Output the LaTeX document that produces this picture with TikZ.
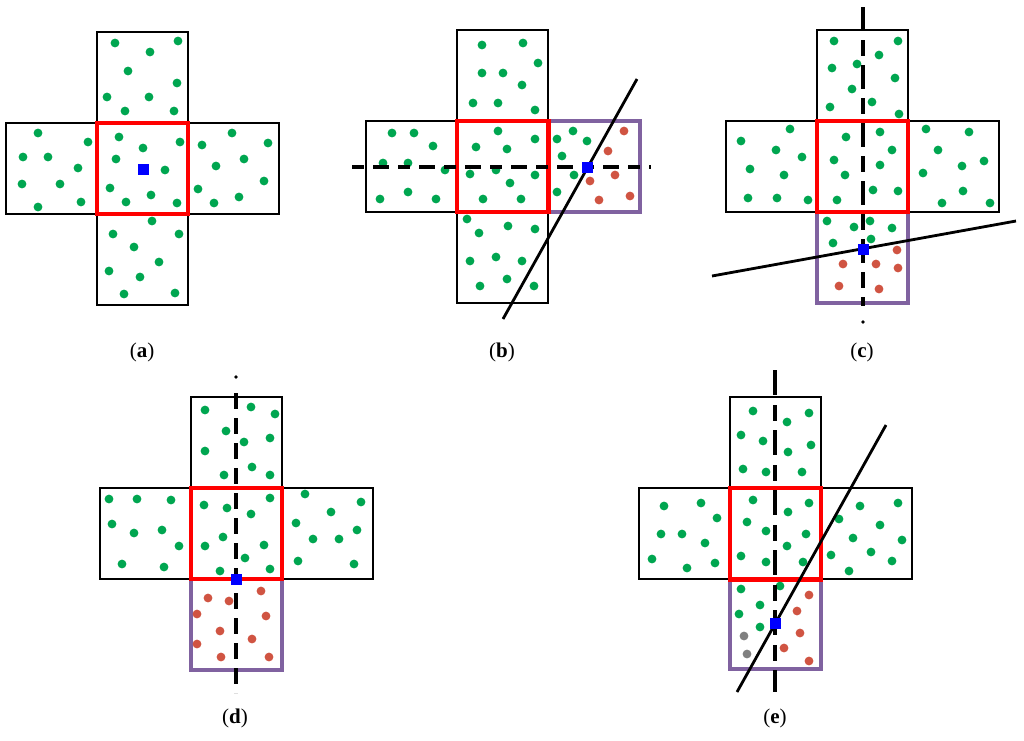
\documentclass[tikz,border=0pt]{standalone}
\usepackage{fontspec}
\setmainfont{Liberation Serif}
\definecolor{gdc}{RGB}{0,166,80}
\definecolor{rdc}{RGB}{208,84,66}
\definecolor{pur}{RGB}{128,98,160}
\definecolor{gyc}{RGB}{128,128,128}
\newcommand\crossat[2]{%
  \draw[boxl] (#1,#2-91) rectangle (#1+91,#2+182);
  \draw[boxl] (#1-91,#2) rectangle (#1+182,#2+91);
  \draw[redbox] (#1,#2) rectangle (#1+91,#2+91);}
\newcommand\gdots[1]{\foreach \p in {#1} \fill[gdc] \p circle (4.4pt);}
\newcommand\rdots[1]{\foreach \p in {#1} \fill[rdc] \p circle (4.4pt);}
\newcommand\bsq[1]{\fill[blue] ($#1+(-5.5,-5.5)$) rectangle ($#1+(5.5,5.5)$);}
\usetikzlibrary{calc}
\begin{document}
\begin{tikzpicture}[x=1pt,y=-1pt,
  boxl/.style={black,line width=2pt},
  redbox/.style={red,line width=4.5pt},
  purbox/.style={pur,line width=4pt},
  solidl/.style={black,line width=2.8pt},
  dashl/.style={black,line width=3.2pt,dash pattern=on 16pt off 9pt},
  lab/.style={font=\fontsize{21}{25}\selectfont}]
\useasboundingbox (0,0) rectangle (1024,740);
% (a)
\crossat{97}{123}
\gdots{(115,43),(178,41),(150,52),(128,71),(177,83),(107,97),(149,97),(125,111),(174,111),
(38,133),(88,142),(23,157),(48,157),(78,168),(22,184),(60,184),(38,207),(81,202),
(119,137),(143,148),(180,142),(116,159),(165,170),(110,188),(151,195),(126,202),(177,203),
(232,133),(268,143),(202,145),(244,159),(216,166),(264,181),(198,189),(239,197),(214,203),
(152,221),(113,234),(179,234),(134,247),(159,262),(109,271),(140,277),(124,294),(175,293)}
\bsq{(143,169)}
\node[lab] (la) at (142,352) {(\textbf{a})};
% (b)
\crossat{457}{121}
\draw[purbox] (549,121) rectangle (640,212);
\draw[redbox] (457,121) rectangle (549,212);
\gdots{(482,45),(523,43),(538,63),(482,73),(503,73),(522,85),(473,103),(498,103),(535,110),
(392,133),(414,133),(433,146),(383,163),(408,163),(445,170),(380,199),(408,192),(436,199),
(498,131),(535,139),(476,147),(507,149),(470,174),(496,170),(535,175),(510,183),(483,199),(521,199),
(557,139),(573,131),(587,141),(562,156),(574,175),(557,192),
(467,219),(479,233),(508,226),(535,229),(470,261),(496,257),(522,261),(480,286),(507,279),(534,286)}
\rdots{(624,131),(608,151),(615,175),(590,181),(599,200),(630,196)}
\coordinate (b1) at (352,167); \coordinate (b2) at (651,167);
\coordinate (b3) at (503,319); \coordinate (b4) at (637,79);
\draw[dashl,dash pattern=on 12pt off 9pt on 16pt off 9pt] (b1) -- (b2);
\draw[solidl] (b3) -- (b4);
\bsq{(587,167)}
\node[lab] (lb) at (502,352) {(\textbf{b})};
% (c)
\crossat{817}{121}
\draw[purbox] (817,212) rectangle (908,303);
\draw[redbox] (817,121) rectangle (908,212);
\gdots{(834,41),(898,41),(879,55),(832,68),(857,64),(895,78),(852,89),(872,102),(830,107),(899,114),
(790,129),(741,141),(776,150),(802,157),(750,169),(784,175),(748,198),(777,198),(808,200),
(846,137),(880,132),(892,150),(834,160),(880,165),(845,175),(873,190),(898,191),(837,200),
(926,129),(969,132),(938,150),(962,166),(984,161),(923,173),(963,191),(942,203),(990,203),
(827,221),(854,227),(870,221),(892,228),(833,243),(871,239)}
\rdots{(897,250),(843,264),(876,264),(898,268),(839,286),(879,289)}
\coordinate (c1) at (863,7); \coordinate (c2) at (863,306);
\coordinate (c3) at (712,276); \coordinate (c4) at (1016,221);
\draw[dashl,dash pattern=on 24pt off 9pt on 16pt off 9pt] (c1) -- (c2);
\fill (863,322) circle (1.8pt);
\draw[solidl] (c3) -- (c4);
\bsq{(863,249)}
\node[lab] (lc) at (862,352) {(\textbf{c})};
% (d)
\crossat{191}{488}
\draw[purbox] (191,579) rectangle (282,670);
\draw[redbox] (191,488) rectangle (282,579);
\gdots{(205,410),(251,407),(275,414),(226,431),(244,442),(270,438),(205,451),(252,467),(224,475),(270,475),
(109,499),(137,499),(171,500),(112,524),(134,533),(162,530),(179,546),(122,564),(164,567),
(204,505),(227,508),(270,498),(251,514),(223,537),(205,546),(264,545),(245,558),(220,571),(270,569),
(305,494),(361,502),(331,512),(296,523),(357,530),(313,539),(339,539),(298,561),(354,564)}
\rdots{(208,598),(229,601),(261,591),(197,614),(266,616),(220,631),(252,639),(197,644),(221,657),(269,657)}
\coordinate (d1) at (236,393); \coordinate (d2) at (236,693);
\fill (236,377) circle (1.8pt);
\draw[dashl] (d1) -- (d2);
\bsq{(236,579)}
\node[lab] (ld) at (235,718) {(\textbf{d})};
% (e)
\crossat{730}{488}
\draw[purbox] (730,580) rectangle (821,669);
\draw[redbox] (730,488) rectangle (821,580);
\gdots{(753,411),(809,413),(787,422),(741,435),(763,441),(811,445),(788,452),(743,469),(766,472),(802,472),
(664,506),(701,503),(717,518),(661,534),(682,534),(705,543),(652,559),(687,568),(715,563),
(753,500),(809,503),(788,512),(747,522),(766,531),(806,534),(787,546),(741,556),(766,562),(803,562),
(860,506),(898,503),(839,519),(880,525),(853,538),(902,540),(831,555),(871,552),(892,561),(849,571),
(741,589),(780,586),(760,605),(739,614),(760,627)}
\rdots{(809,595),(797,611),(800,633),(784,648),(809,661)}
\foreach \p in {(744,636),(747,654)} \fill[gyc] \p circle (4.4pt);
\coordinate (e1) at (775,370); \coordinate (e2) at (775,692);
\coordinate (e3) at (737,692); \coordinate (e4) at (886,425);
\draw[dashl,dash pattern=on 25pt off 10pt on 16pt off 9pt] (e1) -- (e2);
\draw[solidl] (e3) -- (e4);
\bsq{(775,623)}
\node[lab] (le) at (775,718) {(\textbf{e})};
\end{tikzpicture}
\end{document}
